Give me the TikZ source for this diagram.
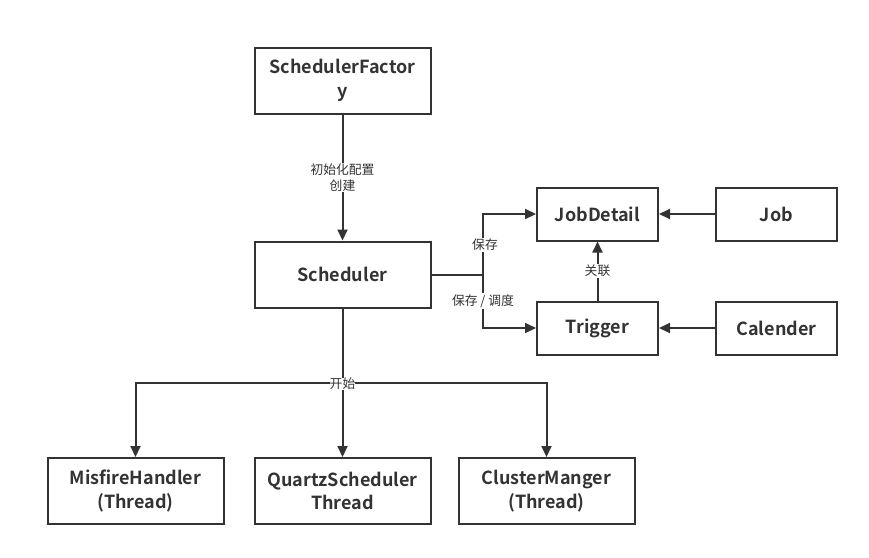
\documentclass[tikz,border=0pt]{standalone}
\usepackage{fontspec}
\setmainfont{Noto Sans CJK SC}[BoldFont={Noto Sans CJK SC Bold}]
\usetikzlibrary{arrows.meta}
\definecolor{ink}{HTML}{333333}
\begin{document}
\begin{tikzpicture}[x=1pt,y=-1pt,
  box/.style={draw=ink,line width=2pt,fill=white,align=center,font=\fontsize{18}{23.5}\selectfont\bfseries,text=ink,inner sep=0pt},
  big/.style={box,minimum width=176pt,minimum height=66pt},
  small/.style={box,minimum width=121pt,minimum height=53pt},
  conn/.style={draw=ink,line width=2pt},
  arr/.style={conn,-{Triangle[length=11pt,width=10pt]}},
  lbl/.style={fill=white,inner sep=1pt,font=\fontsize{12.8}{16}\selectfont,text=ink,align=center}]
\useasboundingbox (0,0) rectangle (869,557);
\node[big] (sf) at (342.5,80.5) {SchedulerFactor\\y};
\node[big] (sch) at (342.5,274.5) {Scheduler};
\node[small] (jd) at (597.5,214) {JobDetail};
\node[small] (job) at (776.5,214) {Job};
\node[small] (trig) at (597.5,328) {Trigger};
\node[small] (cal) at (776.5,328) {Calender};
\node[big] (mis) at (135.5,491) {MisfireHandler\\(Thread)};
\node[big] (qst) at (342.5,491) {QuartzScheduler\\Thread};
\node[big] (clu) at (546.5,491) {ClusterManger\\(Thread)};
\coordinate (j1) at (483,274.5);
\coordinate (j2) at (342.5,383);
\draw[arr] (sf.south) -- node[lbl] {初始化配置\\创建} (sch.north);
\draw[conn] (sch.east) -- (j1);
\draw[arr] (j1) |- (jd.west);
\draw[arr] (j1) |- (trig.west);
\node[lbl] (l1) at (485,245) {保存};
\node[lbl] (l2) at (483,301) {保存 / 调度};
\draw[arr] (job.west) -- (jd.east);
\draw[arr] (cal.west) -- (trig.east);
\draw[arr] (trig.north) -- node[lbl] {关联} (jd.south);
\draw[conn] (sch.south) -- (j2);
\draw[arr] (j2) -| (mis.north);
\draw[arr] (j2) -| (clu.north);
\draw[arr] (j2) -- (qst.north);
\node[lbl,inner sep=0pt] (l3) at (342.5,384) {开始};
\end{tikzpicture}
\end{document}
